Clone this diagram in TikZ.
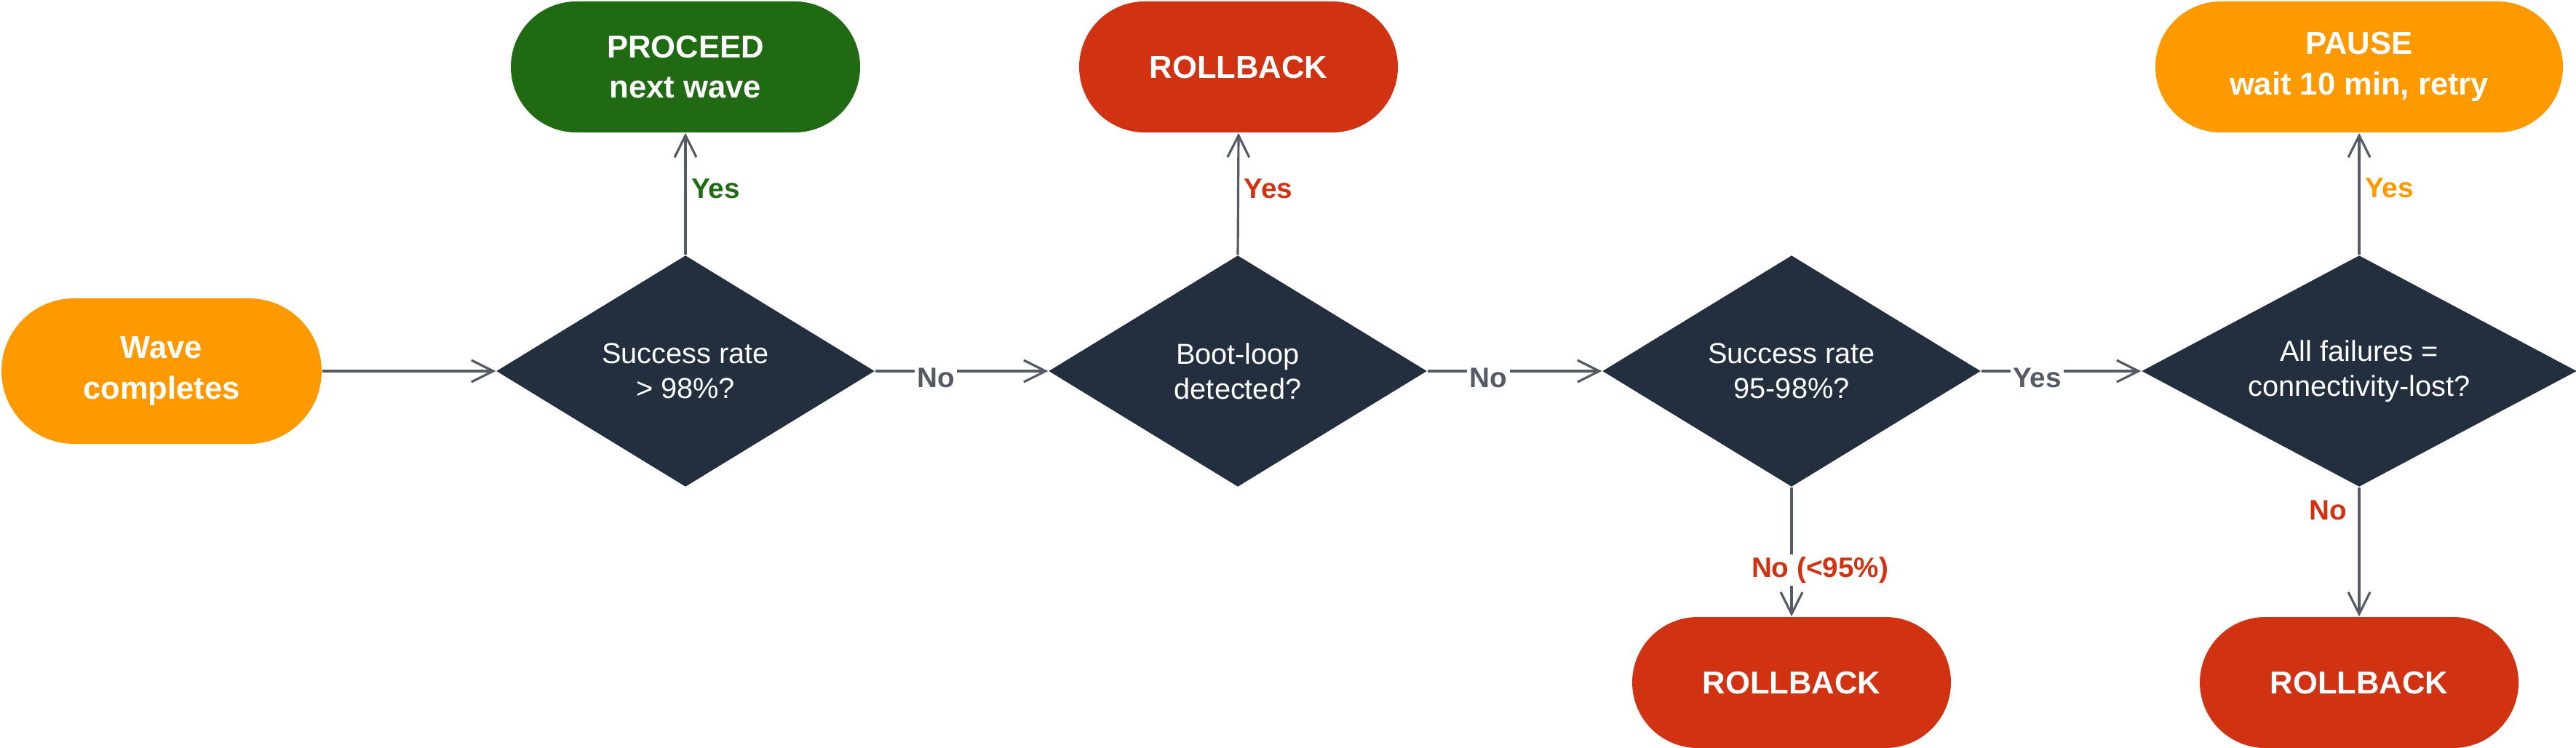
\documentclass[tikz,border=0pt]{standalone}
\usepackage{fontspec}
\setmainfont{Liberation Sans}
\usetikzlibrary{shapes.geometric, arrows.meta}

\definecolor{waveorange}{HTML}{FF9900}
\definecolor{okgreen}{HTML}{1F6A13}
\definecolor{failred}{HTML}{D13212}
\definecolor{asknavy}{HTML}{232F3E}
\definecolor{linegray}{HTML}{545B64}

\newcommand{\termfont}{\fontsize{12.4}{15.9}\selectfont\bfseries}
\newcommand{\askfont}{\fontsize{11.3}{13.6}\selectfont}
\newcommand{\lblfont}{\fontsize{11}{13}\selectfont\bfseries}

\begin{document}
\begin{tikzpicture}[
    terminal/.style={rectangle, rounded corners=0.9cm, minimum height=1.8cm,
        inner sep=0pt, align=center, text=white, font=\termfont},
    ask/.style={diamond, aspect=1.64, fill=asknavy, minimum width=5.2cm, minimum height=3.18cm,
        inner sep=0pt, align=center, text=white, font=\askfont},
    flow/.style={draw=linegray, line width=0.9pt,
        -{Straight Barb[length=0.3cm, width=0.3cm, line width=0.9pt]}},
    lbl/.style={font=\lblfont, inner sep=1pt}
]
    \useasboundingbox (0,0) rectangle (35.40,-10.28);

    % start
    \node[terminal, fill=waveorange, minimum width=4.40cm, minimum height=2cm, rounded corners=1cm]
        (wave) at (2.22,-5.10) {Wave\\completes};

    % decisions
    \node[ask] (rate) at (9.42,-5.10) {Success rate\\> 98\%?};
    \node[ask] (boot) at (17.01,-5.10) {Boot-loop\\detected?};
    \node[ask] (band) at (24.62,-5.10) {Success rate\\95-98\%?};
    \node[ask, aspect=1.88, minimum width=5.98cm] (conn) at (32.42,-5.10) {All failures =\\connectivity-lost?};

    % outcomes
    \node[terminal, fill=okgreen, minimum width=4.80cm] (proceed) at (9.42,-0.92) {PROCEED\\next wave};
    \node[terminal, fill=failred, minimum width=4.38cm] (rbboot) at (17.02,-0.92) {ROLLBACK};
    \node[terminal, fill=waveorange, minimum width=5.60cm] (pause) at (32.42,-0.92) {PAUSE\\wait 10 min, retry};
    \node[terminal, fill=failred, minimum width=4.38cm] (rblow) at (24.62,-9.38) {ROLLBACK};
    \node[terminal, fill=failred, minimum width=4.38cm] (rbconn) at (32.42,-9.38) {ROLLBACK};

    % main line
    \draw[flow] (wave) -- (rate);
    \draw[flow] (rate) -- node[lbl, pos=0.35, fill=white, text=linegray, yshift=-0.09cm] {No} (boot);
    \draw[flow] (boot) -- node[lbl, pos=0.35, fill=white, text=linegray, yshift=-0.09cm] {No} (band);
    \draw[flow] (band) -- node[lbl, pos=0.35, fill=white, text=linegray, yshift=-0.09cm] {Yes} (conn);

    % branches
    \draw[flow] (rate.north) -- node[lbl, pos=0.54, anchor=west, text=okgreen, xshift=0.03cm] {Yes} (proceed.south);
    \draw[flow] (boot.north) -- node[lbl, pos=0.54, anchor=west, text=failred, xshift=0.03cm] {Yes} (rbboot.south);
    \draw[flow] (conn.north) -- node[lbl, pos=0.55, anchor=west, text=waveorange, xshift=0.03cm] {Yes} (pause.south);
    \draw[flow] (band.south) -- node[lbl, pos=0.64, fill=white, text=failred, xshift=0.39cm] {No (<95\%)} (rblow.north);
    \draw[flow] (conn.south) -- node[lbl, pos=0.18, anchor=east, text=failred, xshift=-0.12cm] {No} (rbconn.north);
\end{tikzpicture}
\end{document}
